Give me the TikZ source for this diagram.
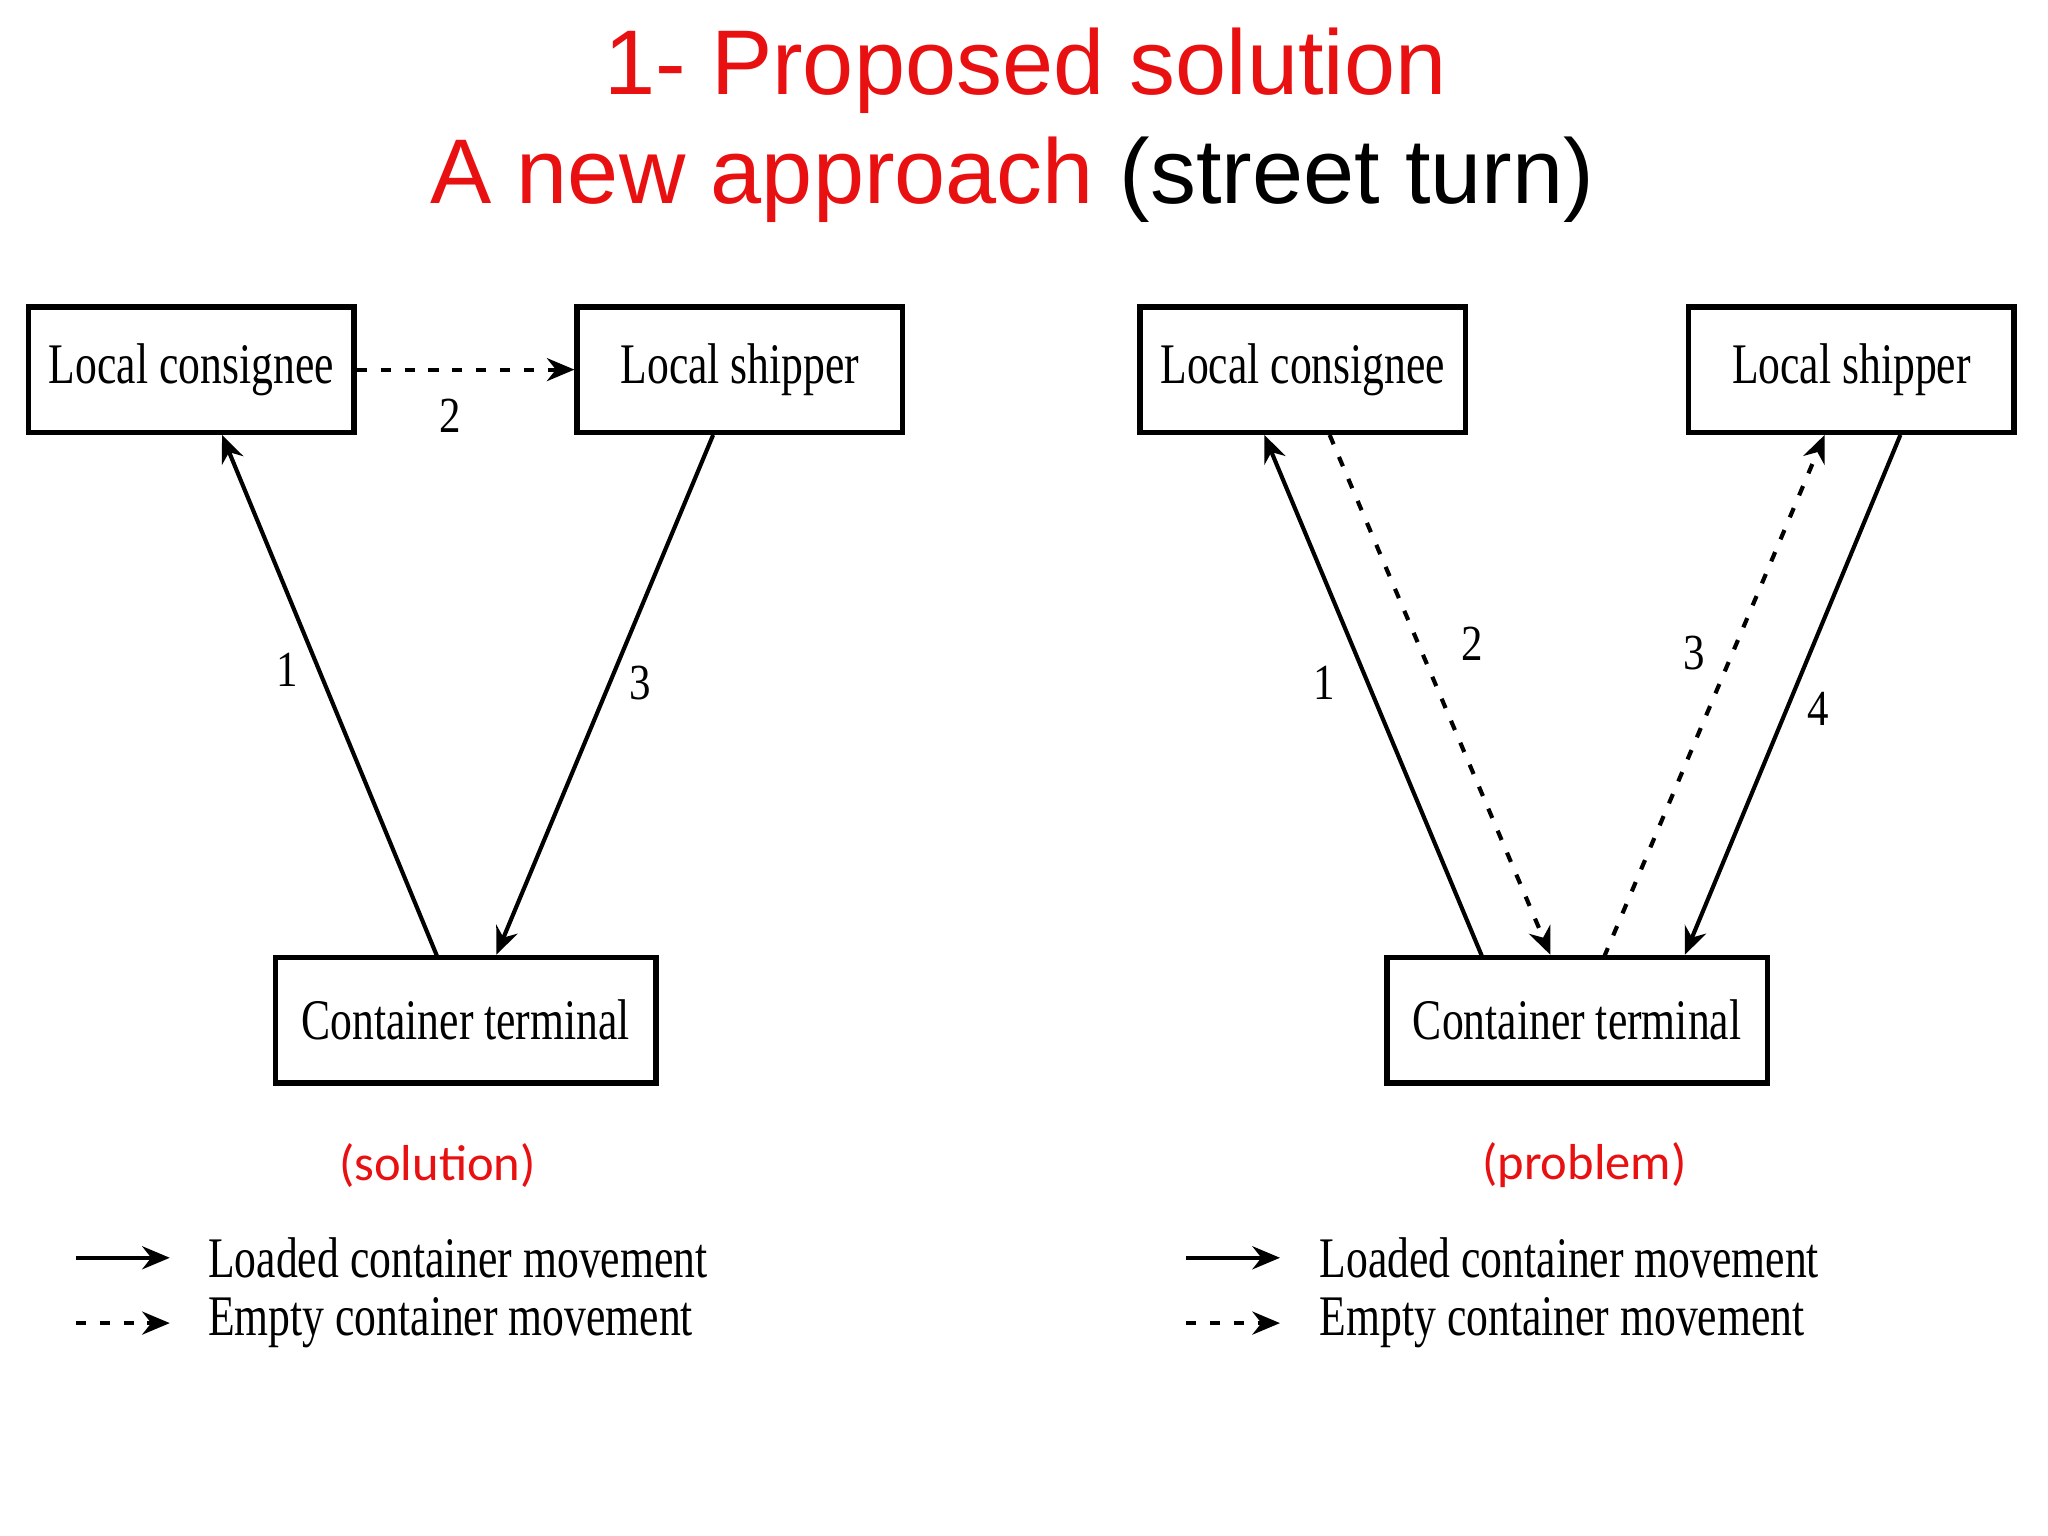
\documentclass[tikz,border=0pt]{standalone}
\usepackage{fontspec}
\setmainfont{Liberation Serif}
\newfontfamily\titlefont{Liberation Sans}
\newfontfamily\carl{Carlito}
\usetikzlibrary{arrows.meta}
\definecolor{tred}{RGB}{232,16,16}
\tikzset{
  box/.style={draw,line width=1.2pt,minimum width=2.49cm,minimum height=0.96cm,inner sep=0pt},
  btxt/.style={font=\fontsize{12.5}{14}\selectfont,xscale=0.76},
  lbl/.style={font=\fontsize{11}{13}\selectfont,xscale=0.85},
  full/.style={line width=0.9pt,-{Stealth[length=6pt,width=5pt]}},
  empt/.style={line width=0.9pt,dash pattern=on 2.2pt off 3pt,-{Stealth[length=6pt,width=5pt]}},
}
\begin{document}
\begin{tikzpicture}[x=0.01cm,y=-0.01cm]
\useasboundingbox (0,0) rectangle (1568,1176);
\node[font=\titlefont\fontsize{20}{22}\selectfont,text=tred] (t1) at (785,54) {1- Proposed solution};
\node[font=\titlefont\fontsize{20}{22}\selectfont] (t2) at (775,138) {\textcolor{tred}{A new approach} (street turn)};
% left
\node[box] (lc) at (146.5,283) {};
\node[btxt] at (lc) {Local consignee};
\node[box] (ls) at (566.5,283) {};
\node[btxt] at (ls) {Local shipper};
\node[box,minimum width=2.91cm] (ct) at (356.5,781) {};
\node[btxt] at (ct) {Container terminal};
\draw[full] (335,733) -- (170,333);
\draw[full] (546,333) -- (380,731);
\draw[empt] (lc.east) -- (ls.west);
\node[lbl] at (345,318) {2};
\node[lbl] at (220,513) {1};
\node[lbl] at (490,523) {3};
% right
\node[box] (rc) at (997.5,283) {};
\node[btxt] at (rc) {Local consignee};
\node[box] (rs) at (1417.5,283) {};
\node[btxt] at (rs) {Local shipper};
\node[box,minimum width=2.91cm] (rt) at (1207.5,781) {};
\node[btxt] at (rt) {Container terminal};
\draw[full] (1135,733) -- (968,333);
\draw[empt] (1018,333) -- (1187,731);
\draw[empt] (1228,733) -- (1397,333);
\draw[full] (1455,333) -- (1290,731);
\node[lbl] at (1014,523) {1};
\node[lbl] at (1127,493) {2};
\node[lbl] at (1297,500) {3};
\node[lbl] at (1392,543) {4};
% captions
\node[font=\carl\fontsize{11}{13}\selectfont,text=tred] (cs) at (335,892) {(solution)};
\node[font=\carl\fontsize{11}{13}\selectfont,text=tred] (cp) at (1213,892) {(problem)};
% legends
\coordinate (a1) at (58,963); \coordinate (a2) at (130,963);
\coordinate (b1) at (58,1013); \coordinate (b2) at (130,1013);
\draw[full] (a1) -- (a2); \draw[empt] (b1) -- (b2);
\node[btxt,anchor=west] at (150,963) {Loaded container movement};
\node[btxt,anchor=west] at (150,1013) {Empty container movement};
\coordinate (c1) at (908,963); \coordinate (c2) at (980,963);
\coordinate (d1) at (908,1013); \coordinate (d2) at (980,1013);
\draw[full] (c1) -- (c2); \draw[empt] (d1) -- (d2);
\node[btxt,anchor=west] at (1001,963) {Loaded container movement};
\node[btxt,anchor=west] at (1001,1013) {Empty container movement};
\end{tikzpicture}
\end{document}
